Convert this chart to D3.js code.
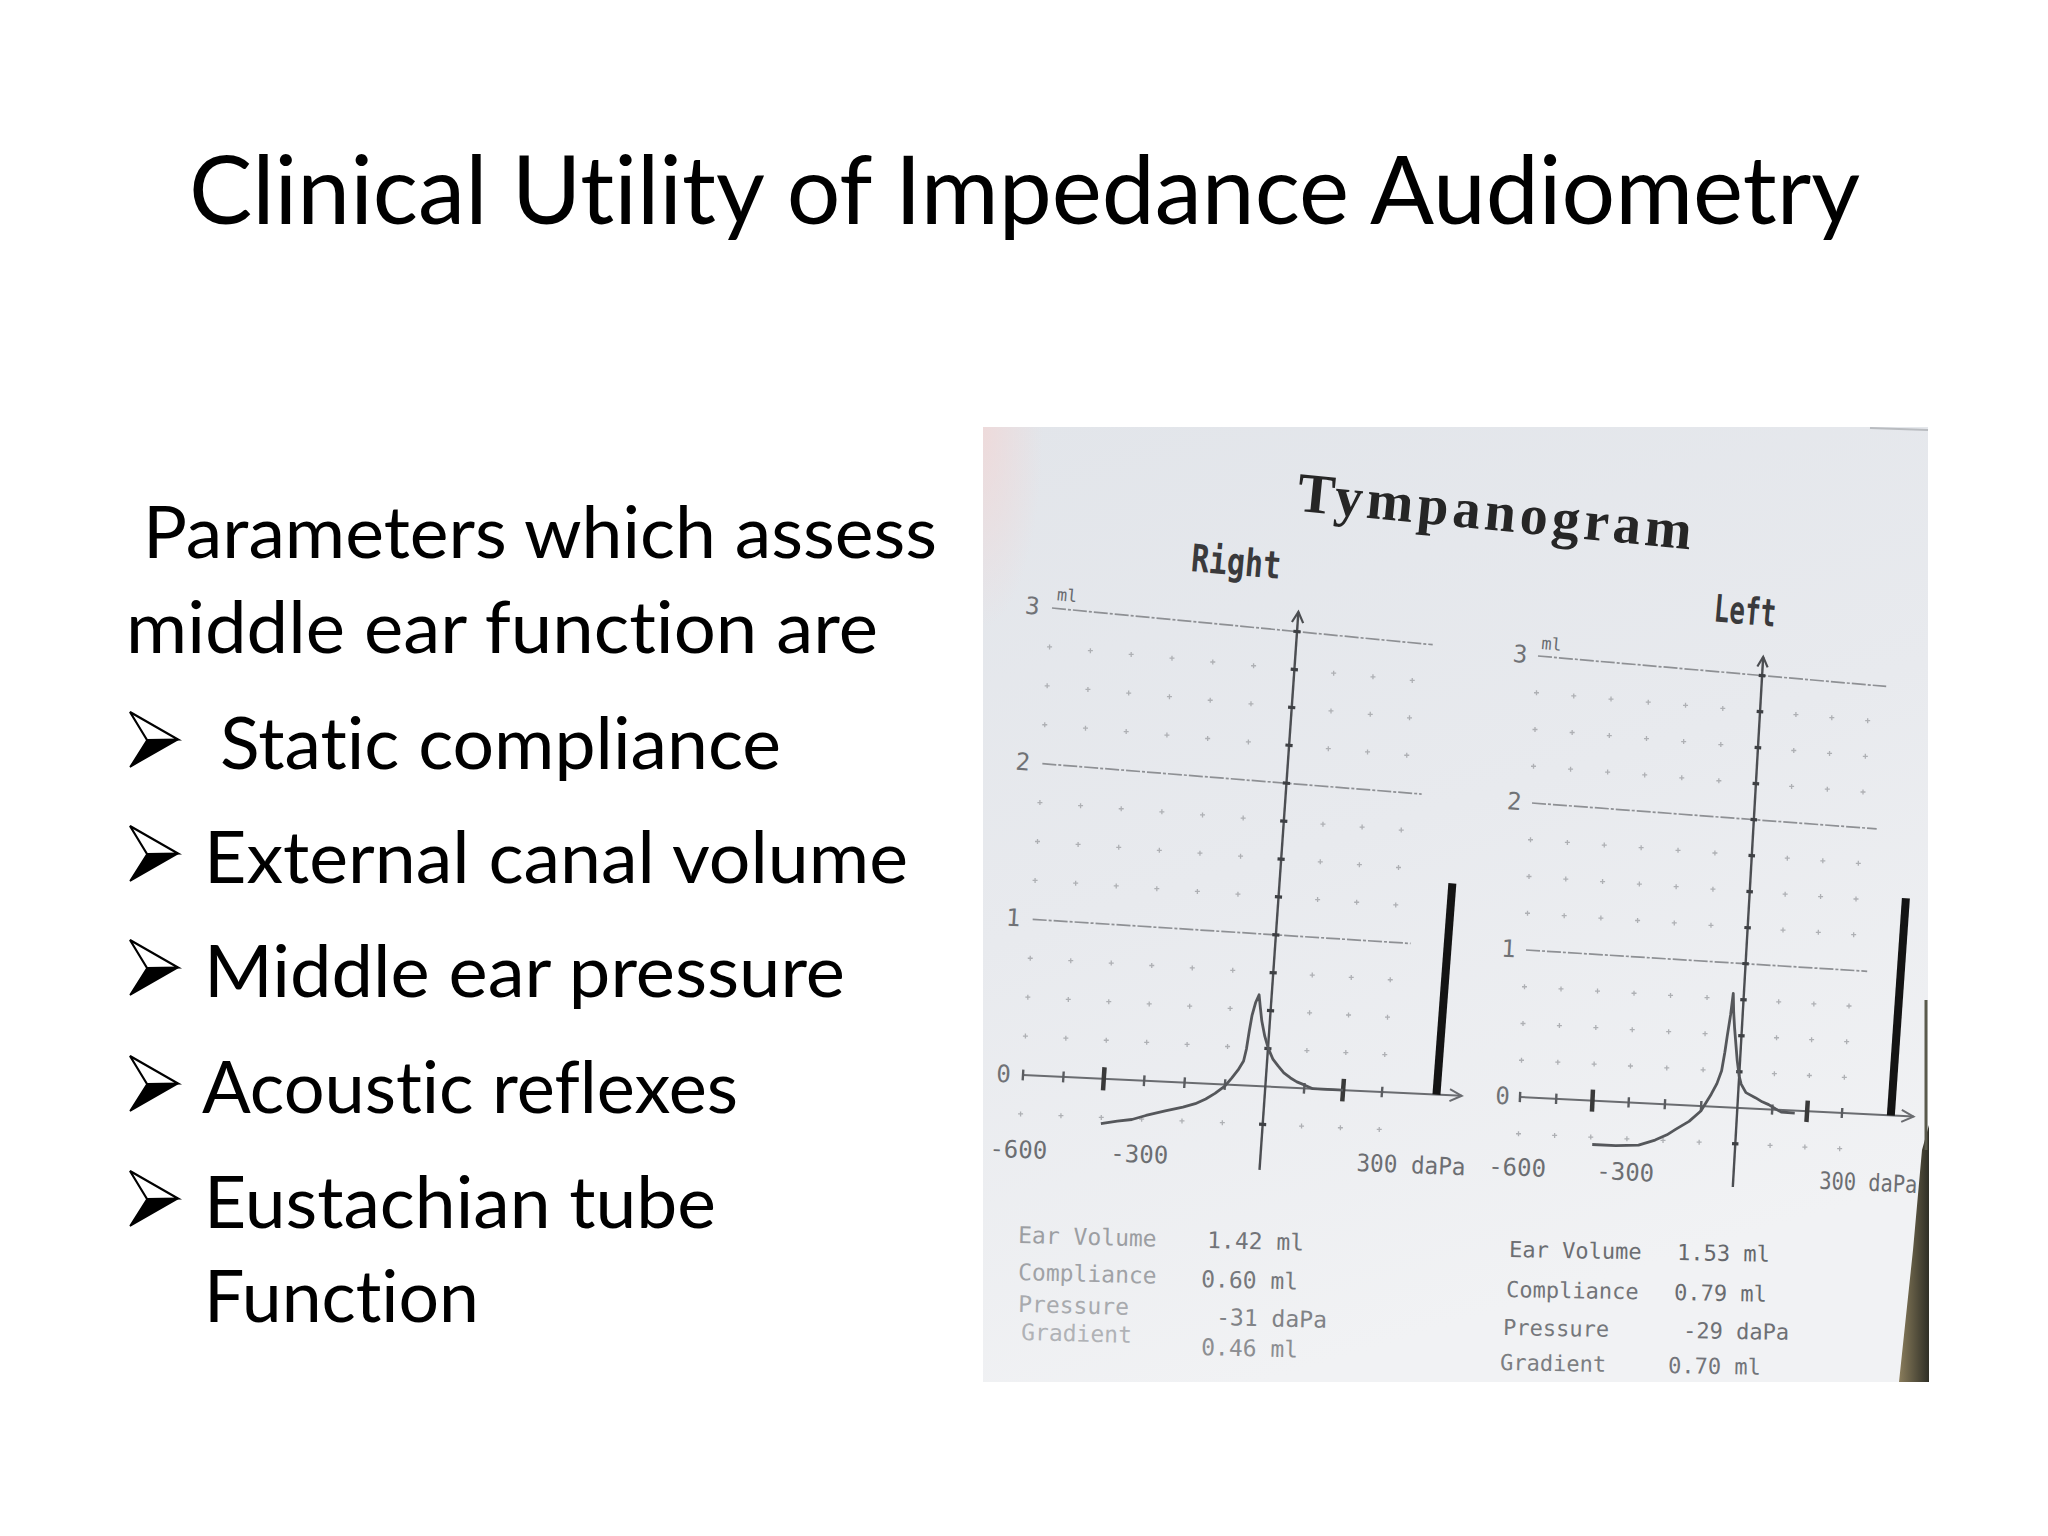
<!DOCTYPE html>
<html><head><meta charset="utf-8">
<script src="https://cdn.jsdelivr.net/npm/d3@7"></script>
<style>body{margin:0;background:#fff}svg{display:block}text{font-variant-ligatures:none;font-feature-settings:"liga" 0,"clig" 0}</style>
</head><body>
<svg id="c" width="2048" height="1536"></svg>
<script>
// ---------------- DATA ----------------
const titleText = "Clinical Utility of Impedance Audiometry";
const introLines = ["Parameters which assess", "middle ear function are"];
const bulletItems = ["Static compliance", "External canal volume", "Middle ear pressure", "Acoustic reflexes", "Eustachian tube"];
const bulletContinuation = "Function";

const chartTitle = "Tympanogram";
const panelNames = ["Right", "Left"];
const pressureTicks = [-600, -500, -400, -300, -200, -100, 100, 200, 300];
const majorPressureTicks = [-400, 200];
const pressureLabels = ["-600", "-300", "300 daPa"];
const pressureLabelValues = [-600, -300, 300];
const volumeGridLines = [1, 2, 3];
const volumeLabels = [0, 1, 2, 3];
const volumeUnit = "ml";
const volumeTicks = [-0.25, 0.25, 0.5, 0.75, 1, 1.25, 1.5, 1.75, 2, 2.25, 2.5, 2.75, 3];
const dotRows = [-0.25, 0.25, 0.5, 0.75, 1.25, 1.5, 1.75, 2.25, 2.5, 2.75];
const dotCols = [-600, -500, -400, -300, -200, -100, 100, 200, 300];

// compliance curves [pressure daPa, admittance ml]
const rightEarCurve = [[-400,-0.29],[-360,-0.27],[-324,-0.255],[-290,-0.225],[-243,-0.19],[-200,-0.16],[-170,-0.134],[-145,-0.10],[-123,-0.061],[-100,-0.01],[-84,0.046],[-70,0.10],[-58,0.16],[-53,0.24],[-49,0.36],[-45,0.46],[-38,0.55],[-31,0.60],[-26,0.52],[-20,0.43],[-10,0.33],[1,0.25],[15,0.18],[29,0.139],[45,0.095],[63,0.064],[80,0.04],[98,0.024],[122,0.0],[160,0.0],[200,0.0]];
const leftEarCurve = [[-395,-0.30],[-330,-0.30],[-267,-0.29],[-222,-0.25],[-190,-0.21],[-167,-0.17],[-131,-0.11],[-100,-0.035],[-86,0.03],[-74,0.085],[-60,0.16],[-49,0.25],[-43,0.38],[-39,0.49],[-33,0.64],[-29,0.79],[-25,0.66],[-20,0.55],[-14,0.44],[-8,0.33],[0,0.22],[7,0.165],[22,0.108],[51,0.075],[70,0.05],[89,0.033],[110,0.005],[126,-0.014],[165,-0.017]];
const earVolumes = [1.42, 1.53];

const statLabels = ["Ear Volume", "Compliance", "Pressure", "Gradient"];
const rightStatValues = ["1.42 ml", "0.60 ml", "-31 daPa", "0.46 ml"];
const leftStatValues = ["1.53 ml", "0.79 ml", "-29 daPa", "0.70 ml"];

// ---------------- LAYOUT ----------------
const svg = d3.select("#c");
const bodyFont = "Lato, 'Open Sans', sans-serif";
const monoFont = "'DejaVu Sans Mono', 'Liberation Mono', monospace";

svg.append("text").attr("x", 189).attr("y", 224)
  .attr("font-family", bodyFont).attr("font-size", 95).attr("fill", "#000")
  .attr("textLength", 1671).attr("lengthAdjust", "spacingAndGlyphs")
  .text(titleText);

const introLayout = [{x:143, y:558, len:794}, {x:126, y:653, len:752}];
introLines.forEach((t,i)=>{
  svg.append("text").attr("x", introLayout[i].x).attr("y", introLayout[i].y)
    .attr("font-family", bodyFont).attr("font-size", 72)
    .attr("textLength", introLayout[i].len).attr("lengthAdjust","spacingAndGlyphs").text(t);
});

const bulletLayout = [{x:220,y:769,len:561},{x:204,y:883,len:704},{x:204,y:997,len:641},{x:202,y:1113,len:536},{x:204,y:1228,len:512}];
bulletItems.forEach((t,i)=>{
  const b = bulletLayout[i];
  const g = svg.append("g").attr("transform", `translate(130,${b.y})`);
  g.append("path").attr("d","M0,-57 L48,-29.5 L17,-29 Z").attr("fill","#fff").attr("stroke","#000").attr("stroke-width",2.2).attr("stroke-linejoin","miter");
  g.append("path").attr("d","M0,-2 L48,-29.5 L17,-29 Z").attr("fill","#000").attr("stroke","#000").attr("stroke-width",1.5);
  svg.append("text").attr("x", b.x).attr("y", b.y)
    .attr("font-family", bodyFont).attr("font-size", 72)
    .attr("textLength", b.len).attr("lengthAdjust","spacingAndGlyphs").text(t);
});
svg.append("text").attr("x", 204).attr("y", 1322)
  .attr("font-family", bodyFont).attr("font-size", 72)
  .attr("textLength", 275).attr("lengthAdjust","spacingAndGlyphs").text(bulletContinuation);

// Photo background
const defs = svg.append("defs");
const grad = defs.append("linearGradient").attr("id","paper").attr("x1",0).attr("y1",0).attr("x2",0.3).attr("y2",1);
grad.append("stop").attr("offset","0").attr("stop-color","#e2e5ea");
grad.append("stop").attr("offset","0.5").attr("stop-color","#e8eaee");
grad.append("stop").attr("offset","1").attr("stop-color","#f1f2f4");
const edgeGrad = defs.append("linearGradient").attr("id","edge").attr("x1",0).attr("y1",0).attr("x2",1).attr("y2",0);
edgeGrad.append("stop").attr("offset","0").attr("stop-color","#8a7d5c");
edgeGrad.append("stop").attr("offset","1").attr("stop-color","#2f2f26");
const pink = defs.append("radialGradient").attr("id","pink").attr("cx",0).attr("cy",0).attr("r",1);
pink.append("stop").attr("offset","0").attr("stop-color","#efd9d9").attr("stop-opacity",0.9);
pink.append("stop").attr("offset","1").attr("stop-color","#efd9d9").attr("stop-opacity",0);

svg.append("rect").attr("x",983).attr("y",427).attr("width",945).attr("height",955).attr("fill","url(#paper)");
svg.append("rect").attr("x",983).attr("y",427).attr("width",60).attr("height",200).attr("fill","url(#pink)");
svg.append("path").attr("d","M1922,1150 L1929,1125 L1929,1382 L1899,1382 L1913,1250 Z").attr("fill","url(#edge)");
svg.append("line").attr("x1",1926).attr("y1",1000).attr("x2",1926).attr("y2",1150).attr("stroke","#5a5a4c").attr("stroke-width",3);
svg.append("line").attr("x1",1870).attr("y1",428).attr("x2",1928).attr("y2",430).attr("stroke","#b9bcc0").attr("stroke-width",2);

// Printed chart heading (spaced serif)
svg.append("text").attr("transform","translate(1493,530) rotate(5.6)")
  .attr("text-anchor","middle").attr("font-family","'Liberation Serif','DejaVu Serif',serif")
  .attr("font-weight","bold").attr("font-size",56).attr("fill","#262626")
  .attr("textLength",396).attr("lengthAdjust","spacing").text(chartTitle);

const panelLayout = [
  {A:[1023,1075], B:[1382,1092], C:[1052,608], D:[1415,643], name:[1235,575], nameLen:90, unitLen:109},
  {A:[1520,1097], B:[1842,1113], C:[1538,656], D:[1870,685], name:[1744,624], nameLen:62, unitLen:98}
];
const curves = [rightEarCurve, leftEarCurve];

function makeWarp(p){
  const su = d3.scaleLinear().domain([-600,0,300]).range([0,0.675,1]);
  const sv = d3.scaleLinear().domain([0,3]).range([0,1]);
  return (u,v)=>{
    const s = su(u), t = sv(v);
    const x = (1-s)*(1-t)*p.A[0] + s*(1-t)*p.B[0] + (1-s)*t*p.C[0] + s*t*p.D[0];
    const y = (1-s)*(1-t)*p.A[1] + s*(1-t)*p.B[1] + (1-s)*t*p.C[1] + s*t*p.D[1];
    return [x,y];
  };
}
function angleAt(w,u,v){
  const a = w(u,v), b = w(u+50,v);
  return Math.atan2(b[1]-a[1], b[0]-a[0])*180/Math.PI;
}

panelLayout.forEach((p,pi)=>{
  const w = makeWarp(p);
  const g = svg.append("g");
  const seg = (u1,v1,u2,v2)=>{const a=w(u1,v1), b=w(u2,v2); return `M${a[0]},${a[1]}L${b[0]},${b[1]}`;};

  dotRows.forEach(v=>dotCols.forEach(u=>{
    const c = w(u,v);
    g.append("path").attr("d",`M${c[0]-2.5},${c[1]}h5M${c[0]},${c[1]-2.5}v5`)
      .attr("stroke","#aeb0b4").attr("stroke-width",1.3);
  }));

  volumeGridLines.forEach(v=>{
    g.append("path").attr("d", seg(-600,v,345,v)).attr("stroke","#8e9094").attr("stroke-width",1.7)
      .attr("stroke-dasharray","14 2 3 2");
  });

  g.append("path").attr("d", seg(-600,0,505,0)).attr("stroke","#6a6c70").attr("stroke-width",2);
  const tip = w(505,0), ang = angleAt(w,505,0)*Math.PI/180;
  const ah = (dx,dy)=>[tip[0]-dx*Math.cos(ang)+dy*Math.sin(ang), tip[1]-dx*Math.sin(ang)-dy*Math.cos(ang)];
  const a1 = ah(12,6), a2 = ah(12,-6);
  g.append("path").attr("d",`M${a1[0]},${a1[1]}L${tip[0]},${tip[1]}L${a2[0]},${a2[1]}`).attr("fill","none").attr("stroke","#6a6c70").attr("stroke-width",2);

  pressureTicks.forEach(u=>{
    const major = majorPressureTicks.includes(u);
    const h = major ? 0.075 : 0.035;
    g.append("path").attr("d", seg(u,-h,u,h)).attr("stroke", major?"#3a3a3a":"#5a5c60").attr("stroke-width", major?4.5:2.4);
  });

  g.append("path").attr("d", seg(0,-0.55,0,3.13)).attr("stroke","#4c4e52").attr("stroke-width",2.4);
  const yt = w(0,3.13), yb1 = w(-14,3.06), yb2 = w(14,3.06);
  g.append("path").attr("d",`M${yb1[0]},${yb1[1]}L${yt[0]},${yt[1]}L${yb2[0]},${yb2[1]}`).attr("fill","none").attr("stroke","#4c4e52").attr("stroke-width",2.2);
  volumeTicks.forEach(v=>{
    g.append("path").attr("d", seg(-9,v,9,v)).attr("stroke","#3e4044").attr("stroke-width",3.2);
  });

  volumeLabels.forEach(v=>{
    const c = w(-648, v);
    g.append("text").attr("transform",`translate(${c[0]},${c[1]}) rotate(${angleAt(w,-648,v)})`)
      .attr("text-anchor","middle").attr("dominant-baseline","central")
      .attr("font-family",monoFont).attr("font-size",24).attr("fill","#707276").text(v);
  });
  const mlPos = w(-565, 3.09);
  g.append("text").attr("transform",`translate(${mlPos[0]},${mlPos[1]}) rotate(${angleAt(w,-565,3.09)})`)
    .attr("text-anchor","middle").attr("dominant-baseline","central")
    .attr("font-family",monoFont).attr("font-size",17).attr("fill","#6a6c70").text(volumeUnit);

  pressureLabels.forEach((t,i)=>{
    const u = pressureLabelValues[i];
    const last = i === pressureLabels.length-1;
    const uu = last ? 248 : u;
    const c = w(uu, -0.48);
    const txt = g.append("text").attr("transform",`translate(${c[0]},${c[1]}) rotate(${angleAt(w,uu,-0.48)})`)
      .attr("text-anchor", last ? "start" : "middle").attr("dominant-baseline","central")
      .attr("font-family",monoFont).attr("font-size",24).attr("fill","#6c6e72").text(t);
    if (last) txt.attr("textLength", p.unitLen).attr("lengthAdjust","spacingAndGlyphs");
  });

  g.append("path").attr("d", seg(440,0,440,earVolumes[pi])).attr("stroke","#141414").attr("stroke-width",8);

  const line = d3.line().x(d=>w(d[0],d[1])[0]).y(d=>w(d[0],d[1])[1]);
  g.append("path").datum(curves[pi]).attr("d", line).attr("fill","none")
    .attr("stroke","#55575b").attr("stroke-width",2.8).attr("stroke-linejoin","round");

  g.append("text").attr("transform",`translate(${p.name[0]},${p.name[1]}) rotate(5)`)
    .attr("text-anchor","middle").attr("font-family",monoFont).attr("font-weight","bold")
    .attr("font-size",38).attr("fill","#3a3a3c")
    .attr("textLength",p.nameLen).attr("lengthAdjust","spacingAndGlyphs").text(panelNames[pi]);
});

const statLayout = [
  {labels:[[1018,1243],[1018,1280],[1018,1312],[1021,1340]], values:[[1207,1248],[1201,1287],[1216,1325],[1201,1355]],
   size:23, rot:1.5, labelColor:["#9c9ea2","#a0a2a6","#a8aaae","#b0b2b6"], valueColor:["#727478","#76787c","#808286","#8c8e92"], vals:rightStatValues},
  {labels:[[1509,1257],[1506,1297],[1503,1335],[1500,1370]], values:[[1677,1260],[1674,1300],[1683,1338],[1668,1373]],
   size:22, rot:1.0, labelColor:["#6c6e72","#727478","#76787c","#7c7e82"], valueColor:["#66686c","#6a6c70","#6e7074","#72747a"], vals:leftStatValues}
];
statLayout.forEach(s=>{
  statLabels.forEach((t,i)=>{
    svg.append("text").attr("transform",`translate(${s.labels[i][0]},${s.labels[i][1]}) rotate(${s.rot})`)
      .attr("font-family",monoFont).attr("font-size",s.size).attr("fill",s.labelColor[i]).text(t);
    svg.append("text").attr("transform",`translate(${s.values[i][0]},${s.values[i][1]}) rotate(${s.rot})`)
      .attr("font-family",monoFont).attr("font-size",s.size).attr("fill",s.valueColor[i]).text(s.vals[i]);
  });
});
</script>
</body></html>
